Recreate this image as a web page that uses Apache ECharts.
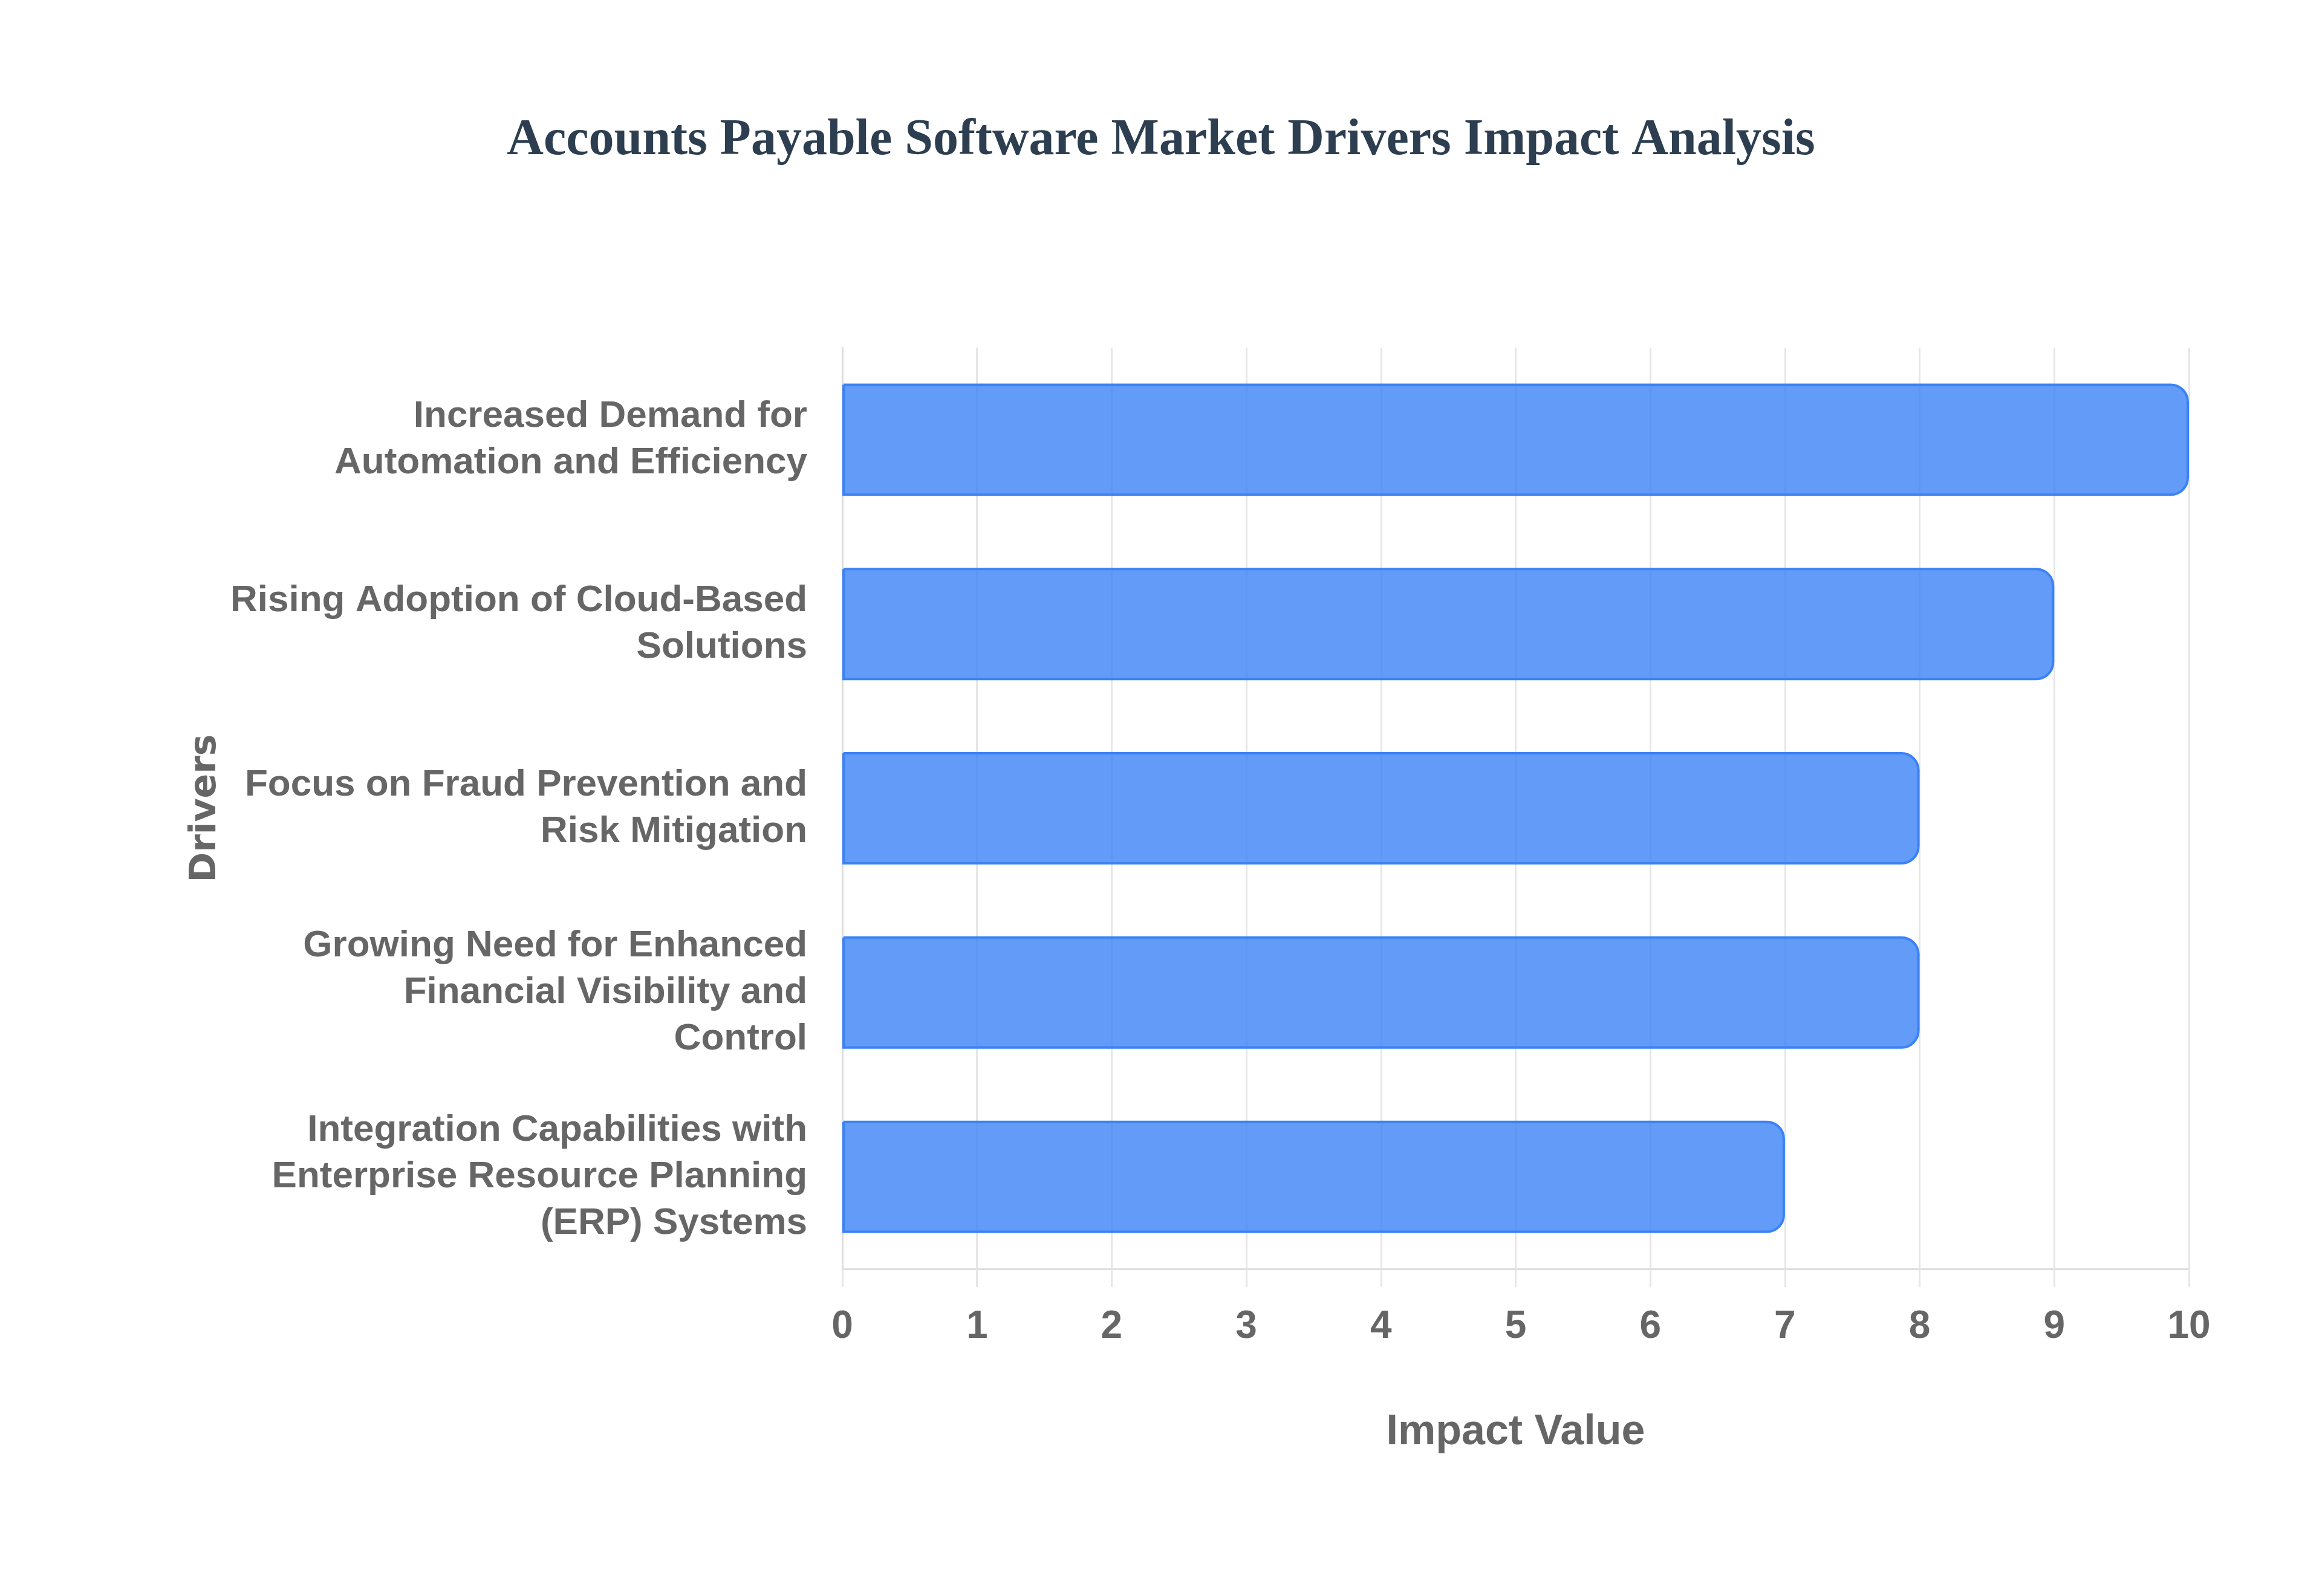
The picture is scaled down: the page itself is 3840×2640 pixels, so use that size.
<!DOCTYPE html>
<html>
<head>
<meta charset="utf-8">
<script src="https://cdn.jsdelivr.net/npm/echarts@6/dist/echarts.min.js"></script>
<style>
  html, body { margin: 0; padding: 0; background: #fff; }
  #chart { width: 3840px; height: 2640px; }
</style>
</head>
<body>
<div id="chart"></div>
<script>
var drivers = [
  'Increased Demand for\nAutomation and Efficiency',
  'Rising Adoption of Cloud-Based\nSolutions',
  'Focus on Fraud Prevention and\nRisk Mitigation',
  'Growing Need for Enhanced\nFinancial Visibility and\nControl',
  'Integration Capabilities with\nEnterprise Resource Planning\n(ERP) Systems'
];
var impactValues = [10, 9, 8, 8, 7];
var xTicks = [0, 10, 1];   // min, max, step

var narrow = "'Liberation Sans Narrow', 'Arial Narrow', 'Liberation Sans', sans-serif";
var gridColor = '#e6e6e6';

var chart = echarts.init(document.getElementById('chart'));
chart.setOption({
  backgroundColor: '#ffffff',
  title: {
    text: 'Accounts Payable Software Market Drivers Impact Analysis',
    left: 'center',
    top: 186,
    textStyle: {
      fontFamily: "'Liberation Serif', 'Times New Roman', serif",
      fontWeight: 'bold',
      fontSize: 84,
      color: '#2c3e50'
    }
  },
  grid: { left: 1393, right: 220, top: 575, bottom: 541, containLabel: false },
  xAxis: {
    type: 'value',
    min: xTicks[0],
    max: xTicks[1],
    interval: xTicks[2],
    name: 'Impact Value',
    nameLocation: 'middle',
    nameGap: 236,
    nameTextStyle: { fontFamily: narrow, fontWeight: 'bold', fontSize: 70, color: '#666666' },
    axisLine: { show: true, lineStyle: { color: '#dddddd', width: 3 } },
    axisTick: { show: true, length: 30, lineStyle: { color: gridColor, width: 3 } },
    splitLine: { show: true, lineStyle: { color: gridColor, width: 3 } },
    axisLabel: { margin: 64, fontFamily: narrow, fontWeight: 'bold', fontSize: 64, color: '#666666' }
  },
  yAxis: {
    type: 'category',
    inverse: true,
    data: drivers,
    name: 'Drivers',
    nameLocation: 'middle',
    nameGap: 990,
    nameTextStyle: { fontFamily: "'DejaVu Sans', sans-serif", fontWeight: 'bold', fontSize: 60, color: '#666666' },
    axisLine: { show: true, lineStyle: { color: '#dddddd', width: 3 } },
    axisTick: { show: false },
    splitLine: { show: false },
    axisLabel: {
      margin: 58,
      fontFamily: narrow,
      fontWeight: 'bold',
      fontSize: 62,
      lineHeight: 77,
      color: '#666666',
      align: 'right'
    }
  },
  series: [{
    type: 'bar',
    data: impactValues,
    barCategoryGap: '39%',
    itemStyle: {
      color: 'rgba(59,130,246,0.8)',
      borderColor: '#3b82f6',
      borderWidth: 4,
      borderRadius: [0, 28, 28, 0]
    }
  }]
});
</script>
</body>
</html>
